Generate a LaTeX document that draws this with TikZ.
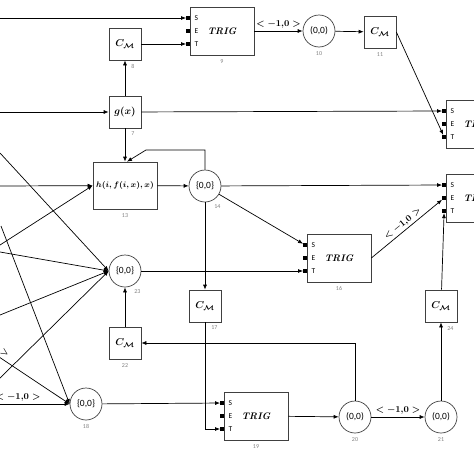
\documentclass[tikz,border=0pt]{standalone}
\usepackage{amsmath}
\usepackage{amssymb}
\usepackage{fontspec}
\setsansfont{Carlito}
\usetikzlibrary{arrows.meta}

% trigger block with its three ports S, E, T
\newcommand{\trigbox}[3]{%
  \node[trigstyle, label={[numlbl]below:#3}] (#1) at (#2) {\textbf{\textit{TRIG}}};
  \foreach \p/\dy in {S/13,E/0,T/-13} {
    \node[port] (#1-\p) at ([xshift=-1.5pt,yshift=\dy pt]#1.west) {};
    \node[portlbl] at ([xshift=4.5pt,yshift=\dy pt]#1.west) {\p};
  }
}

\begin{document}
\begin{tikzpicture}[x=1pt, y=-1pt, line width=0.7pt,
    >={Latex[length=5pt,width=4pt]}, label distance=2.5pt,
    trigstyle/.style={draw=black!75, minimum width=64pt, minimum height=48pt, inner sep=0pt, font=\fontsize{9.5}{11}\selectfont},
    port/.style={fill=black, inner sep=0pt, minimum size=3.5pt},
    portlbl/.style={anchor=west, inner sep=0pt, font=\sffamily\fontsize{7.5}{8}\selectfont},
    cmbox/.style={draw=black!75, minimum size=32pt, inner sep=0pt, font=\boldmath},
    funbox/.style={draw=black!75, minimum width=64pt, minimum height=47pt, inner sep=0pt, font=\fontsize{8.5}{10}\selectfont\boldmath},
    zerocirc/.style={draw=black!75, circle, minimum size=32pt, inner sep=0pt, font=\sffamily\fontsize{9.5}{10}\selectfont},
    numlbl/.style={text=black!50, font=\sffamily\fontsize{6}{7}\selectfont, inner sep=1pt},
    weight/.style={font=\fontsize{9}{10}\selectfont\boldmath, inner sep=2pt}]
\clip (0,0) rectangle (474,474);

% blocks
\trigbox{trigA}{222,31}{9}
\trigbox{trigB}{339,258}{16}
\trigbox{trigC}{256,416}{19}
\trigbox{trigD}{478,124}{}
\trigbox{trigE}{478,198}{}

\node[cmbox, label={[numlbl]-75:8}] (cmA) at (125,44) {$C_{\mathcal{M}}$};
\node[cmbox, label={[numlbl]-75:7}] (gx) at (125,112) {$g(x)$};
\node[funbox, label={[numlbl]below:13}] (hfun) at (125,185.5) {$h(i,f(i,x),x)$};
\node[zerocirc, label={[numlbl]-65:14}] (z14) at (205,186) {\{0,0\}};
\node[zerocirc, label={[numlbl]-65:23}] (z23) at (125,271) {\{0,0\}};
\node[cmbox, label={[numlbl]-75:17}] (cm17) at (205,306) {$C_{\mathcal{M}}$};
\node[cmbox, label={[numlbl]below:22}] (cm22) at (125,343) {$C_{\mathcal{M}}$};
\node[zerocirc, label={[numlbl]below:18}] (z18) at (86,404) {\{0,0\}};
\node[zerocirc, label={[numlbl]below:20}] (z20) at (355,417) {(0,0)};
\node[zerocirc, label={[numlbl]below:21}] (z21) at (441,417) {(0,0)};
\node[cmbox, label={[numlbl]-75:24}] (cm24) at (441,306) {$C_{\mathcal{M}}$};
\node[zerocirc, label={[numlbl]below:10}] (z10) at (319,31) {(0,0)};
\node[cmbox, label={[numlbl]below:11}] (cm11) at (380,32) {$C_{\mathcal{M}}$};

% free ends coming in from the left
\coordinate (inA) at (0,18);
\coordinate (inB) at (0,112);
\coordinate (inC) at (0,186);
\coordinate (inD) at (0,245);
\coordinate (inE) at (0,153);
\coordinate (inF) at (0,252);
\coordinate (inG) at (0,315);
\coordinate (inH) at (0,378);
\coordinate (inI) at (0,404);
\coordinate (inJ) at (-40,331);
\coordinate (inK) at (1,226);
\coordinate (bendA) at (146,150);

% top row
\draw[->] (inA) -- (trigA-S);
\draw[->] (cmA) -- (trigA-T);
\draw[->] (trigA) -- node[weight, above] {$<-1{,}0>$} (z10);
\draw[->] (z10) -- (cm11);
\draw[->] (cm11.east) -- (trigD-T);

% g(x) and h
\draw[->] (inB) -- (gx);
\draw[->] (gx) -- (cmA);
\draw[->] (gx) -- (trigD-S);
\draw[->] (gx) -- (hfun);
\draw[->] (z14.north) |- (bendA) -- ([xshift=2pt]hfun.north);
\draw[->] (inC) -- (hfun);
\draw[->] (inD) -- (hfun.west);
\draw[->] (hfun) -- (z14);
\draw[->] (z14) -- (trigE-S);
\draw[->] (z14) -- (trigB-S);
\draw[->] (z14) -- (cm17);

% middle
\foreach \src in {inE,inF,inG,inH}
  \draw[->] (\src) -- (z23.west);
\draw[->] (z23) -- (trigB-T);
\draw[->] (cm22) -- (z23);
\draw[->] (trigB.east) -- node[weight, above, sloped] {$<-1{,}0>$} (trigE-E);

% bottom row
\draw[->] (cm17) |- (trigC-T);
\draw[->] (inI) -- node[weight, above, pos=0.26] {$<-1{,}0>$} (z18);
\draw[->] (inJ) -- node[weight, above, sloped, pos=0.24] {$<-1{,}0>$} (z18.west);
\draw[->] (inK) -- (z18.west);
\draw[->] (z18) -- (trigC-S);
\draw[->] (trigC) -- (z20);
\draw[->] (z20.north) |- (cm22);
\draw[->] (z20) -- node[weight, above] {$<-1{,}0>$} (z21);
\draw[->] (z21) -- (cm24);
\draw[->] (cm24) -- (trigE-T);
\end{tikzpicture}
\end{document}
